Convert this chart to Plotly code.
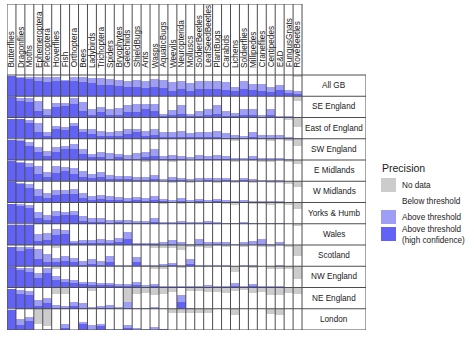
import plotly.graph_objects as go

taxa = ["Butterflies", "Dragonflies", "Moths", "Ephemeroptera", "Plecoptera", "Hoverflies",
        "Fish", "Orthoptera", "Bees", "Ladybirds", "Trichoptera", "Spiders", "Bryophytes",
        "Gelechiids", "ShieldBugs", "Ants", "Wasps", "AquaticBugs", "Weevils", "Neuropterida",
        "Molluscs", "SoldierBeetles", "LeafSeedBeetles", "PlantBugs", "Carabids", "Lichens",
        "Soldierflies", "Millipedes", "Craneflies", "Centipedes", "E&D", "FungusGnats", "RoveBeetles"]

regions = ["All GB", "SE England", "East of England", "SW England", "E Midlands", "W Midlands",
           "Yorks & Humb", "Wales", "Scotland", "NW England", "NE England", "London"]

# fraction of years: high confidence (hc), above threshold (at), no data (nd); remainder = below threshold
allgb_hc = [.98,.85,.82,.70,.65,.70,.73,.70,.65,.62,.55,.55,.50,.44,.44,.39,.44,.39,.27,.32,.24,.32,.35,.35,.29,.24,.32,.29,.24,.20,.29,.17,.12]
allgb_at = [0,.10,.10,.22,.24,.22,.04,.22,.24,.23,.30,.25,.27,.26,.33,.31,.38,.38,.38,.38,.38,.41,.38,.35,.36,.20,.38,.30,.34,.24,.24,.12,.11]
allgb_nd = [0]*32 + [.05]

se_hc = [.97,.78,.75,.30,.14,.50,.54,.62,.30,.14,.25,.14,.14,.25,.25,.38,.30,.05,.10,.15,.05,.05,.10,.15,.05,.05,.10,.10,0,.10,0,0,0]
se_at = [0,.12,.15,.48,.24,.20,.16,.28,.43,.24,.25,.24,.32,.32,.37,.27,.35,.10,.25,.42,.10,.25,.28,.45,.25,.17,.28,.28,.14,.28,.05,.05,0]
se_nd = [0]*32 + [.22]

ee_hc = [.97,.95,.76,.30,.15,.48,.45,.60,.30,.23,.15,.15,.15,.23,.30,.15,.18,.10,.10,.10,.10,.10,.10,.10,.05,.05,.05,.10,.05,.05,.05,.05,0]
ee_at = [0,.02,.15,.46,.15,.12,.08,.16,.18,.22,.23,.15,.23,.22,.18,.23,.27,.20,.20,.25,.15,.20,.20,.25,.20,.15,.10,.20,.15,.15,.15,.05,.05]
ee_nd = [0]*31 + [.10,.45]

sw_hc = [.97,.90,.68,.37,.20,.37,.52,.52,.28,.12,.12,.05,.12,.05,.05,.12,.20,.05,.05,.05,0,.05,.05,.05,.05,0,0,.05,0,0,0,0,0]
sw_at = [0,.05,.16,.23,.24,.23,.16,.24,.24,.16,.25,.28,.16,.20,.28,.25,.30,.15,.20,.15,.15,.20,.15,.20,.15,.10,.10,.15,.10,.10,.10,.05,0]
sw_nd = [0]*25 + [.10,0,0,0,.10,0,.10,.35]

em_hc = [.97,.85,.65,.33,.22,.41,.49,.33,.20,.13,.22,.10,.10,.10,.05,.05,.10,0,.05,.05,0,0,.05,0,.05,0,.05,0,0,0,0,0,0]
em_at = [0,.10,.20,.40,.20,.30,.16,.30,.30,.20,.20,.20,.15,.15,.15,.15,.20,.10,.15,.10,.10,.15,.10,.15,.10,.05,.10,.10,.05,.05,.05,0,0]
em_nd = [0]*15 + [.05,0,0,.05,0,0,0,0,0,0,.10,0,0,.05,.10,0,.10,.20]

wm_hc = [.97,.88,.70,.30,.20,.35,.40,.40,.20,.10,.15,.10,.10,.05,.10,.05,.10,.05,0,.05,0,.05,0,.05,0,0,0,0,0,0,0,0,0]
wm_at = [0,.07,.15,.35,.25,.25,.20,.25,.25,.20,.20,.20,.15,.15,.15,.15,.20,.10,.10,.15,.10,.10,.10,.10,.10,.05,.10,.05,.05,.05,.05,0,0]
wm_nd = [0]*17 + [0,.05,0,.05,0,0,.05,0,.10,0,.05,0,.10,.05,.15,.25]

yh_hc = [.97,.85,.75,.25,.20,.35,.40,.40,.15,.10,.10,.05,.10,.05,.05,.05,.10,0,0,.05,0,0,.05,0,0,0,0,0,0,0,0,0,0]
yh_at = [0,.10,.15,.30,.20,.25,.15,.20,.20,.15,.15,.15,.10,.15,.10,.10,.15,.10,.10,.10,.10,.10,.10,.10,.05,.05,.10,.05,.05,.05,.05,0,0]
yh_nd = [0]*17 + [.05,0,.05,0,.05,0,0,.05,.10,0,.05,.05,.10,.05,.10,.30]

wa_hc = [.97,.97,.97,.20,.25,.45,.50,.10,.10,.10,.10,.10,.15,.30,.05,.05,.05,0,.05,0,0,.05,0,.05,0,0,0,0,.05,0,0,0,0]
wa_at = [0,0,0,.30,.30,.30,.20,.10,.15,.15,.20,.15,.20,.30,.05,.05,.05,.12,.20,.15,.05,.25,.15,.10,.15,.05,.15,.20,.25,.05,.15,0,0]
wa_nd = [0]*31 + [0,.10]

sc_hc = [.95,.74,.79,.36,.20,.20,.25,.20,.05,.10,.05,.20,0,0,.20,0,0,0,.05,0,.10,0,0,0,0,0,0,0,0,0,0,0,0]
sc_at = [0,.16,.11,.46,.40,.20,.25,.20,.20,.25,.20,.30,.05,.05,.25,.05,.05,.10,.10,.05,.25,.05,.05,.05,.05,0,.05,.05,0,0,.05,0,0]
sc_nd = [0,0,0,0,0,.12,0,0,0,0,0,0,0,0,0,0,.15,.12,.12,.25,.10,.10,.15,0,.10,0,.10,0,.05,.05,0,.05,.50]

nw_hc = [.97,.83,.75,.43,.67,.35,.25,.20,.15,.10,.10,.10,.05,.05,.10,.05,.05,0,0,0,0,0,.05,0,0,.05,0,.05,0,0,0,0,0]
nw_at = [0,.11,.15,.24,.23,.20,.15,.15,.10,.15,.10,.10,.10,.10,.15,.05,.10,.05,.05,.05,.05,.05,.05,.05,.05,.15,.05,.10,.05,.05,.05,0,0]
nw_nd = [0,0,0,0,0,.14,0,0,0,0,0,0,0,0,0,0,.15,.15,0,.05,0,0,0,0,0,.25,0,.05,0,.15,.15,.15,.60]

ne_hc = [.95,.71,.63,.15,.25,.05,.05,.15,.05,0,.05,.05,0,.05,0,0,0,0,0,.30,0,0,0,0,0,0,0,0,0,0,0,0,0]
ne_at = [0,.21,.22,.25,.25,.15,.10,.15,.20,.10,.10,.15,.10,.25,.05,.05,.10,0,0,.35,.05,0,0,0,0,0,0,0,0,0,0,0,0]
ne_nd = [0,0,0,0,0,.29,.30,0,0,.15,0,0,0,.70,.30,.25,.35,.30,.20,0,.15,.15,.20,.20,.25,.15,.10,.25,.20,.35,.35,.25,.30]

lo_hc = [.97,.25,.42,0,0,0,.10,0,.30,0,.20,0,0,.10,0,0,0,.05,0,0,0,0,0,0,0,0,0,0,0,0,0,0,0]
lo_at = [0,.25,.21,0,.05,0,.20,0,.10,.25,.10,.05,.05,.15,.10,.05,.15,0,0,0,0,0,0,0,0,0,0,0,0,0,0,0,0]
lo_nd = [0,0,0,.70,.83,0,0,0,0,0,0,0,0,0,0,0,0,0,.20,.20,.20,.20,.20,0,0,.30,0,0,0,.25,.30,0,0]

hc_rows = [allgb_hc, se_hc, ee_hc, sw_hc, em_hc, wm_hc, yh_hc, wa_hc, sc_hc, nw_hc, ne_hc, lo_hc]
at_rows = [allgb_at, se_at, ee_at, sw_at, em_at, wm_at, yh_at, wa_at, sc_at, nw_at, ne_at, lo_at]
nd_rows = [allgb_nd, se_nd, ee_nd, sw_nd, em_nd, wm_nd, yh_nd, wa_nd, sc_nd, nw_nd, ne_nd, lo_nd]

cat_names = ["Above threshold (high confidence)", "Above threshold", "Below threshold", "No data"]
cat_colors = ["#6262F5", "#9E9EF5", "#FFFFFF", "#CCCCCC"]

W, H = 474, 338
ML, MR, MT, MB = 7, 108, 4, 8
plot_w = W - ML - MR
plot_h = H - MT - MB
ncol, nrow = len(taxa), len(regions)
col_px = 8.94
row_px = 21.25
R = plot_w / col_px - ncol        # right strip width in x units
S = plot_h / row_px - nrow        # top strip height in y units
LINE = "#4d4d4d"
FONT = "Liberation Sans"
TXT = "#1a1a1a"

fig = go.Figure()
segs = {k: ([], [], []) for k in range(4)}
for r in range(nrow):
    ybase = nrow - 1 - r
    for c in range(ncol):
        hc = hc_rows[r][c]
        at = at_rows[r][c]
        nd = nd_rows[r][c]
        bl = max(0.0, 1 - hc - at - nd)
        vals = [hc, at, bl, nd]
        cum = 0.0
        for k, v in enumerate(vals):
            if v > 0:
                segs[k][0].append(c)
                segs[k][1].append(v)
                segs[k][2].append(ybase + cum)
            cum += v

for k in range(4):
    xs, ys, bs = segs[k]
    fig.add_trace(go.Bar(x=xs, y=ys, base=bs, width=1, name=cat_names[k],
                         marker=dict(color=cat_colors[k], line=dict(width=0)),
                         showlegend=False, hoverinfo="skip"))

shapes = []
for i in range(ncol + 1):
    shapes.append(dict(type="line", xref="x", yref="y", x0=i - 0.5, x1=i - 0.5, y0=0, y1=nrow + S,
                       line=dict(color=LINE, width=1), layer="above"))
for j in range(nrow + 1):
    shapes.append(dict(type="line", xref="x", yref="y", x0=-0.5, x1=ncol - 0.5 + R, y0=j, y1=j,
                       line=dict(color=LINE, width=1), layer="above"))
shapes.append(dict(type="line", xref="x", yref="y", x0=-0.5, x1=ncol - 0.5, y0=nrow + S, y1=nrow + S,
                   line=dict(color=LINE, width=1), layer="above"))
shapes.append(dict(type="line", xref="x", yref="y", x0=ncol - 0.5 + R, x1=ncol - 0.5 + R, y0=0, y1=nrow,
                   line=dict(color=LINE, width=1), layer="above"))

annotations = []
for i, t in enumerate(taxa):
    annotations.append(dict(x=i + 0.05, y=nrow + 0.25, xref="x", yref="y", text=t, textangle=-90,
                            showarrow=False, xanchor="center", yanchor="bottom",
                            font=dict(family=FONT, size=8.2, color=TXT)))
for r, reg in enumerate(regions):
    annotations.append(dict(x=ncol - 0.5 + R / 2, y=nrow - 0.5 - r, xref="x", yref="y", text=reg,
                            showarrow=False, xanchor="center", yanchor="middle",
                            font=dict(family=FONT, size=8.2, color=TXT)))

def px_x(px):
    return (px - ML) / plot_w

def px_y(py):
    return (H - MB - py) / plot_h

annotations.append(dict(x=px_x(380), y=px_y(168), xref="paper", yref="paper", text="Precision",
                        showarrow=False, xanchor="left", yanchor="middle",
                        font=dict(family=FONT, size=10.5, color=TXT)))
leg_order = [3, 2, 1, 0]
leg_text = ["No data", "Below threshold", "Above threshold", "Above threshold<br>(high confidence)"]
leg_top = [178, 194, 210, 227]
for n, k in enumerate(leg_order):
    y0 = leg_top[n]
    shapes.append(dict(type="rect", xref="paper", yref="paper", x0=px_x(381), x1=px_x(396),
                       y0=px_y(y0 + 14), y1=px_y(y0), fillcolor=cat_colors[k], line=dict(width=0)))
    annotations.append(dict(x=px_x(400), y=px_y(y0 + 7.5), xref="paper", yref="paper", text=leg_text[n],
                            showarrow=False, xanchor="left", yanchor="middle", align="left",
                            font=dict(family=FONT, size=8.2, color=TXT)))

fig.update_layout(
    width=W, height=H, margin=dict(l=ML, r=MR, t=MT, b=MB, pad=0),
    paper_bgcolor="white", plot_bgcolor="white", barmode="overlay", bargap=0,
    showlegend=False, shapes=shapes, annotations=annotations,
    xaxis=dict(range=[-0.5, ncol - 0.5 + R], showgrid=False, zeroline=False, showticklabels=False,
               ticks="", fixedrange=True),
    yaxis=dict(range=[0, nrow + S], showgrid=False, zeroline=False, showticklabels=False,
               ticks="", fixedrange=True),
)
fig.write_html("out.html")
